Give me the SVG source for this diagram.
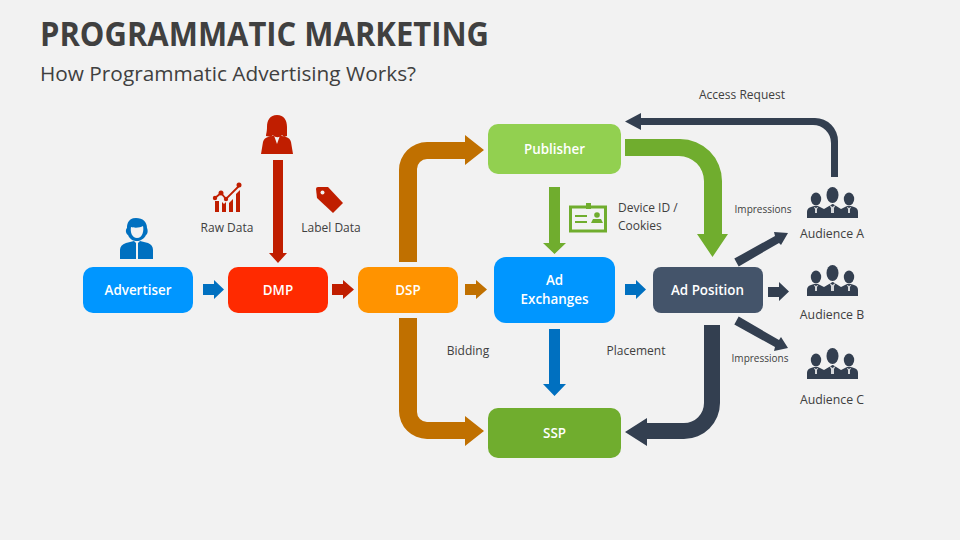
<svg xmlns="http://www.w3.org/2000/svg" width="960" height="540" viewBox="0 0 960 540">
<style>
text{font-family:"Open Sans","Noto Sans","Liberation Sans",sans-serif}
.t{font-size:33.5px;font-weight:700;fill:#404040}
.s{font-size:20.800px;fill:#404040}
.n{font-size:13.400px;font-weight:600;fill:#fff;text-anchor:middle}
.l{font-size:12px;fill:#404040;text-anchor:middle}
.m{font-size:10px;fill:#404040;text-anchor:middle}
.o{fill:#C07000}.g{fill:#70AD2E}.d{fill:#333F50}.r{fill:#C01E00}.b{fill:#0070C0}
</style>
<defs>
<g id="aud">
<ellipse cx="9" cy="12" rx="5.200" ry="6.500" class="d"/>
<ellipse cx="42" cy="12" rx="5.200" ry="6.500" class="d"/>
<path class="d" d="M0 31V25Q0 21 4 20L7 19H11L17 22L25.500 17H26L34 22L40 19H44L47 20Q51 21 51 25V31Z"/>
<ellipse cx="25.500" cy="8" rx="6" ry="8" class="d"/>
<path fill="#F2F2F2" d="M22 17.500L25.500 20L29 17.500L27 21L27 26H24L24 21ZM6.500 19.500L9 21L11.500 19.500L10 22V26H8V22ZM39.500 19.500L42 21L44.500 19.500L43 22V26H41V22Z" opacity=".85"/>
</g>
</defs>
<rect width="960" height="540" fill="#F2F2F2"/>
<text class="t" x="40" y="46" textLength="449" lengthAdjust="spacingAndGlyphs">PROGRAMMATIC MARKETING</text>
<text class="s" x="40" y="81">How Programmatic Advertising Works?</text>

<g id="connectors">
<path class="o" d="M399 262V170A28 28 0 0 1 427 142H465V135L484 150L465 165V159H427A10 10 0 0 0 417 169V262Z"/>
<path class="o" d="M399 318V411A28 28 0 0 0 427 439H465V446L484 431L465 416V422H427A10 10 0 0 1 417 412V318Z"/>
<path class="g" d="M625 139H680A42 42 0 0 1 722 181V234H728L712.500 257L697 234H704V181A25 25 0 0 0 679 156H625Z"/>
<path class="d" d="M704 325V403A20 20 0 0 1 684 423H647V418L625 432L647 446V439H684A36 36 0 0 0 720 403V325Z"/>
<path class="d" d="M838 177V141A23 23 0 0 0 815 118H641V113L625 121.500L641 130V125H813A18 18 0 0 1 831 143V177Z"/>
<path class="r" d="M273 160H283V253H287L278 263L269 253H273Z"/>
<path class="g" d="M549 187H560V243H566L554.500 254L543 243H549Z"/>
<path class="b" d="M549 329H560V384H566L554.500 396L543 384H549Z"/>
<path class="b" d="M203 284H214V280L224 289.500L214 299V295H203Z"/>
<path class="r" d="M332 284H343V280L354 289.500L343 299V295H332Z"/>
<path class="o" d="M465 284H476V280L487 289.500L476 299V295H465Z"/>
<path class="b" d="M625 284H636V280L646 289.500L636 299V295H625Z"/>
<path class="d" d="M768 287H779V282L789 291.500L779 301V297H768Z"/>
<path class="d" d="M734.300 258.600L775 236L774 232L788 233L781 245L779 243L738.700 266.400Z"/>
<path class="d" d="M734.300 324.400L775 347L774 351L788 348L781 337L779 340L738.700 316.600Z"/>
</g>

<g id="advertiser"><rect x="83" y="267" width="110" height="46" rx="10" fill="#0096FF"/><text class="n" x="138" y="295">Advertiser</text></g>
<g id="dmp"><rect x="228" y="267" width="100" height="46" rx="10" fill="#FF2A00"/><text class="n" x="278" y="295">DMP</text></g>
<g id="dsp"><rect x="358" y="267" width="100" height="46" rx="10" fill="#FF9300"/><text class="n" x="408" y="295">DSP</text></g>
<g id="ad-exchanges"><rect x="494" y="257" width="121" height="66" rx="12" fill="#0096FF"/><text class="n" x="554.500" y="285">Ad</text><text class="n" x="554.500" y="304">Exchanges</text></g>
<g id="ad-position"><rect x="653" y="267" width="110" height="46" rx="8" fill="#44546A"/><text class="n" x="707.500" y="295">Ad Position</text></g>
<g id="publisher"><rect x="488" y="124" width="133" height="50" rx="10" fill="#92D050"/><text class="n" x="554.500" y="154">Publisher</text></g>
<g id="ssp"><rect x="488" y="408" width="133" height="50" rx="10" fill="#70AD2E"/><text class="n" x="554.500" y="438">SSP</text></g>

<g id="advertiser-icon">
<path class="b" d="M120 259V250Q120 245 126 243L134 241L136 243V259ZM138 259V243L140 241L148 243Q153 245 153 250V259Z"/>
<path class="b" d="M136 218C127 218 127 226 127 228C125 230 126 234 128 235C130 240 134 241 137 241C140 241 144 239 146 235C148 234 148 230 147 228C147 222 143 218 136 218ZM131 227C134 228 140 228 143 226C144 230 143 238 137 238C132 238 130 232 131 227Z"/>
</g>
<g id="woman-icon">
<path class="r" d="M277 115C270 115 267 120 267 127C267 132 266 134 266 136L271 137L273 135C275 138 280 138 282 135L284 137L287 136C287 133 287 131 287 127C287 120 284 115 277 115Z"/>
<path class="r" d="M261 154L263 142Q264 138 268 137L274 135.500L277 144L280 135.500L286 137Q290 138 291 142L293 154Z"/>
</g>
<g id="chart-icon">
<path class="r" d="M215 212V201H219V212ZM222 212V202L224 204L226 202V212ZM229 212V203L233 199V212ZM236 212V194L240 190V212Z"/>
<path d="M215 198L221 193L226 199L240 185" fill="none" stroke="#C01E00" stroke-width="1.800"/>
<circle class="r" cx="215" cy="198" r="2.200"/><circle class="r" cx="221" cy="193" r="2.500"/><circle class="r" cx="226" cy="199" r="2.200"/><circle class="r" cx="239" cy="185" r="2.500"/>
</g>
<g id="tag-icon">
<path class="r" d="M318 187H328L343 203L333 213L317 198L316 189Q316 187 318 187Z"/>
<circle cx="322.500" cy="192.500" r="2" fill="#F2F2F2"/>
</g>
<g id="id-icon">
<rect x="570.500" y="207" width="35" height="24" fill="none" stroke="#70AD2E" stroke-width="3"/>
<rect x="586" y="203" width="5" height="6" class="g"/>
<rect x="575" y="215" width="12" height="2" class="g"/><rect x="575" y="221" width="12" height="2" class="g"/>
<circle class="g" cx="597" cy="215" r="2.800"/><path class="g" d="M591 223L593 219H601L603 223Z"/>
</g>
<use id="audience-a" href="#aud" x="807" y="187"/>
<use id="audience-b" href="#aud" x="807" y="265"/>
<use id="audience-c" href="#aud" x="807" y="348"/>

<g id="labels">
<text class="m" x="742" y="99" style="font-size:12px">Access Request</text>
<text class="l" x="227" y="232">Raw Data</text>
<text class="l" x="331" y="232">Label Data</text>
<text class="l" x="618" y="212" style="text-anchor:start">Device ID /</text>
<text class="l" x="618" y="230" style="text-anchor:start">Cookies</text>
<text class="m" x="763" y="213">Impressions</text>
<text class="m" x="760" y="362">Impressions</text>
<text class="l" x="832" y="238" style="font-size:12.300px">Audience A</text>
<text class="l" x="832" y="319" style="font-size:12.300px">Audience B</text>
<text class="l" x="832" y="404" style="font-size:12.300px">Audience C</text>
<text class="l" x="468" y="355">Bidding</text>
<text class="l" x="636" y="355">Placement</text>
</g>
</svg>
